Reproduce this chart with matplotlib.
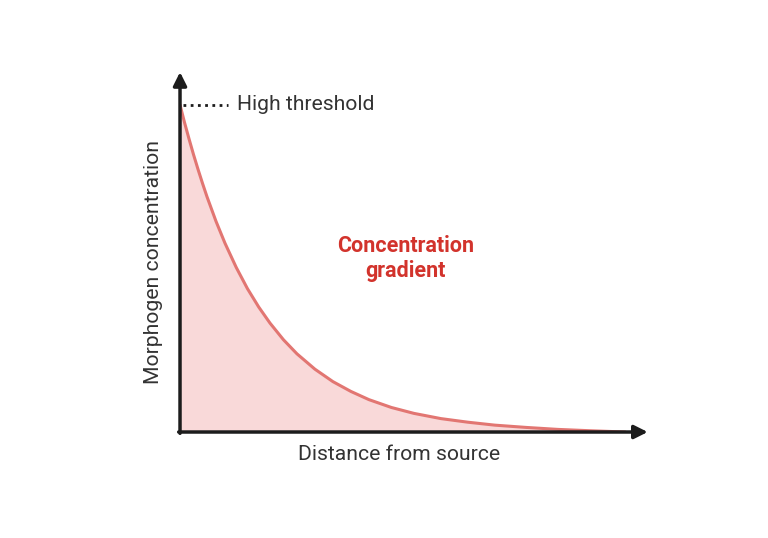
import matplotlib.pyplot as plt

plt.rcParams['font.family'] = ['Roboto', 'DejaVu Sans']

# values
distance = [0, 0.1, 0.2, 0.3, 0.4, 0.5, 0.6, 0.8, 1.0, 1.25, 1.5, 1.75, 2.0,
            2.3, 2.6, 3.0, 3.4, 3.8, 4.2, 4.7, 5.2, 5.8, 6.4, 7.0, 7.7, 8.4,
            9.1, 9.9]
concentration = [1.0, 0.946, 0.896, 0.848, 0.803, 0.76, 0.719, 0.644, 0.577,
                 0.503, 0.438, 0.382, 0.333, 0.282, 0.239, 0.192, 0.154,
                 0.124, 0.099, 0.075, 0.057, 0.041, 0.030, 0.021, 0.014,
                 0.008, 0.004, 0.0]
high_threshold = 1.0

x_label = "Distance from source"
y_label = "Morphogen concentration"
curve_label = "Concentration\ngradient"
threshold_label = "High threshold"

line_color = '#e27672'
fill_color = '#f9d9d9'
text_red = '#d2332c'
axis_color = '#1c1c1c'
text_gray = '#333333'

fig = plt.figure(figsize=(7.68, 5.38), dpi=100)
ax = fig.add_axes([0.2344, 0.197, 0.609, 0.669])
ax.set_xlim(0, 10.4)
ax.set_ylim(0, 1.1)
ax.axis('off')

ax.fill_between(distance, concentration, 0, color=fill_color, lw=0)
ax.plot(distance, concentration, color=line_color, lw=2.2,
        solid_capstyle='round', solid_joinstyle='round')

# axes with arrow heads
arrow = dict(arrowstyle='-|>', lw=2.5, color=axis_color, mutation_scale=20,
             shrinkA=0, shrinkB=0)
ax.annotate('', xy=(10.4, 0), xytext=(-0.03, 0), arrowprops=arrow, annotation_clip=False)
ax.annotate('', xy=(0, 1.1), xytext=(0, -0.004), arrowprops=arrow, annotation_clip=False)

# threshold marker
ax.plot([0.07, 1.07], [high_threshold, high_threshold], color=axis_color,
        lw=2, ls=(0, (1, 1.6)))
ax.text(1.27, high_threshold, threshold_label, fontsize=15.2, color=text_gray,
        va='center', ha='left')

ax.text(5.02, 0.53, curve_label, fontsize=15.5, fontweight='bold', color=text_red,
        ha='center', va='center', linespacing=1.15)

ax.text(4.87, -0.07, x_label, fontsize=15.2, color=text_gray, ha='center',
        va='center', clip_on=False)
ax.text(-0.6, 0.52, y_label, fontsize=15.2, color=text_gray, ha='center',
        va='center', rotation=90, clip_on=False)

fig.savefig('out.png', dpi=100)
